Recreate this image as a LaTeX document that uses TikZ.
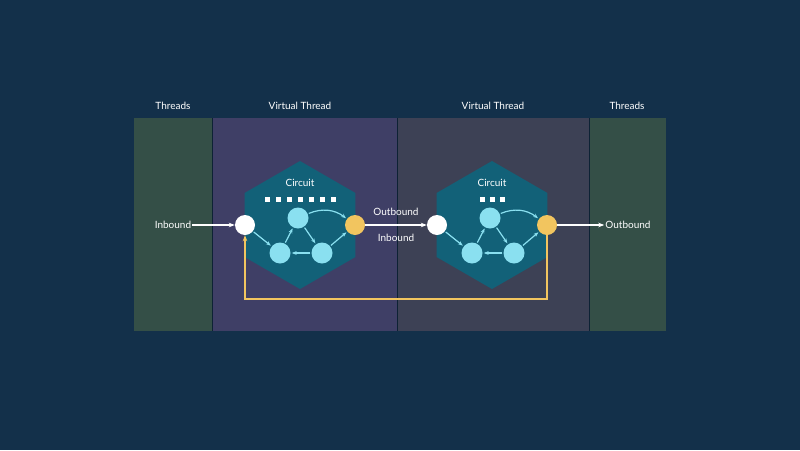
\documentclass[tikz,border=0pt]{standalone}
\usepackage{fontspec}
\setmainfont{Lato}
\usetikzlibrary{shapes.geometric,arrows.meta}
\definecolor{bgblue}{HTML}{13304A}
\definecolor{thrgreen}{HTML}{344F47}
\definecolor{vtpurple}{HTML}{3F3F66}
\definecolor{vtgrey}{HTML}{3D4155}
\definecolor{hexteal}{HTML}{126178}
\definecolor{nodecyan}{HTML}{8AE0F0}
\definecolor{gateyellow}{HTML}{F2C55F}
\begin{document}
\begin{tikzpicture}[x=1pt,y=-1pt,font=\fontsize{10}{12}\selectfont,
  lbl/.style={text=white,inner sep=1pt},
  hexa/.style={regular polygon,regular polygon sides=6,shape border rotate=30,fill=hexteal,minimum size=128pt,inner sep=0pt},
  endpt/.style={circle,fill=white,minimum size=20pt,inner sep=0pt},
  gate/.style={circle,fill=gateyellow,minimum size=20pt,inner sep=0pt},
  cell/.style={circle,fill=nodecyan,minimum size=21pt,inner sep=0pt},
  sq/.style={fill=white,minimum size=5pt,inner sep=0pt},
  link/.style={-{Stealth[length=5pt]},nodecyan,line width=1.2pt,shorten >=1pt,shorten <=1pt},
  flow/.style={-{Stealth[length=6pt]},white,line width=1.2pt}]
  \fill[bgblue] (0,0) rectangle (800,450);
  % columns
  \fill[thrgreen] (134,118) rectangle (212,331);
  \fill[vtpurple] (212,118) rectangle (397,331);
  \fill[vtgrey] (397,118) rectangle (589,331);
  \fill[thrgreen] (589,118) rectangle (666,331);
  \draw[bgblue!70!black,line width=0.6pt] (212,118) -- (212,331) (397,118) -- (397,331) (589,118) -- (589,331);
  \node[lbl] (thl) at (173,106) {Threads};
  \node[lbl] (vtl) at (300,106) {Virtual Thread};
  \node[lbl] (vtr) at (493,106) {Virtual Thread};
  \node[lbl] (thr) at (627,106) {Threads};

  % left circuit
  \node[hexa] (hexl) at (300,225) {};
  \node[lbl] (cirl) at (300,183) {Circuit};
  \foreach \i in {0,...,6} \node[sq] (sql\i) at (267+11*\i,199) {};
  \node[endpt] (inl) at (245,225) {};
  \node[cell] (tl) at (298,218) {};
  \node[cell] (al) at (280,253) {};
  \node[cell] (bl) at (322,253) {};
  \node[gate] (outl) at (355,225) {};
  \draw[link] (inl) -- (al);
  \draw[link] (al) -- (tl);
  \draw[link] (tl) -- (bl);
  \draw[link] (bl) -- (al);
  \draw[link] (bl) -- (outl);
  \draw[link] (tl) to[bend left=30] (outl);

  % right circuit
  \node[hexa] (hexr) at (492,225) {};
  \node[lbl] (cirr) at (492,183) {Circuit};
  \foreach \i in {0,...,2} \node[sq] (sqr\i) at (482+10*\i,199) {};
  \node[endpt] (inr) at (437,225) {};
  \node[cell] (tr) at (490,218) {};
  \node[cell] (ar) at (472,253) {};
  \node[cell] (br) at (514,253) {};
  \node[gate] (outr) at (547,225) {};
  \draw[link] (inr) -- (ar);
  \draw[link] (ar) -- (tr);
  \draw[link] (tr) -- (br);
  \draw[link] (br) -- (ar);
  \draw[link] (br) -- (outr);
  \draw[link] (tr) to[bend left=30] (outr);

  % flows
  \node[lbl] (inbl) at (173,225) {Inbound};
  \node[lbl] (outbr) at (628,225) {Outbound};
  \node[lbl] (outbm) at (396,212) {Outbound};
  \node[lbl] (inbm) at (396,238) {Inbound};
  \draw[flow] (inbl) -- (inl);
  \draw[flow] (outl) -- (inr);
  \draw[flow] (outr) -- (outbr);
  \draw[-{Stealth[length=6pt]},gateyellow,line width=1.2pt] (outr.south) |- (245,299) -- (inl.south);
\end{tikzpicture}
\end{document}
